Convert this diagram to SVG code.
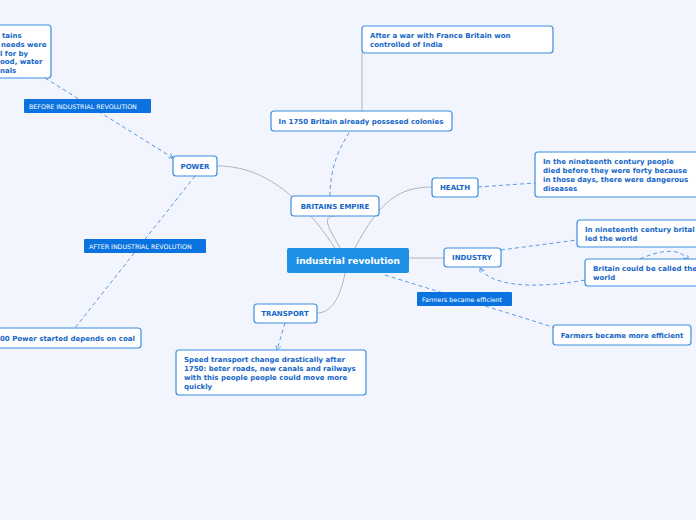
<svg xmlns="http://www.w3.org/2000/svg" width="696" height="520" viewBox="0 0 696 520">
<defs>
<style>
.b{fill:#fff;stroke:#3d8ee0;stroke-width:1.2}
.t{font-family:Verdana,"DejaVu Sans",sans-serif;font-size:7px;font-weight:bold;fill:#1466c8}
.l{fill:#0a73e0}
.lt{font-family:"DejaVu Sans",sans-serif;font-size:6.3px;fill:#fff}
.s{fill:none;stroke:#b0b4c0;stroke-width:1}
.d{fill:none;stroke:#4a8fdc;stroke-width:0.9;stroke-dasharray:4,3}
</style>
<marker id="a" markerWidth="6" markerHeight="6" refX="5" refY="3" orient="auto"><path d="M0,0L5,3L0,6" fill="none" stroke="#4a8fdc" stroke-width="0.9"/></marker>
</defs>
<rect width="696" height="520" fill="#f2f5fe"/>
<g id="connectors">
<path class="s" d="M340,248 C330,230 320,216 335,216"/>
<path class="s" d="M355,248 C380,200 400,187 432,187"/>
<path class="s" d="M409,258 L444,258"/>
<path class="s" d="M345,273 C340,300 330,313 317,313"/>
<path class="s" d="M335,248 C290,180 250,166 217,166"/>
<path class="s" d="M362,111 L362,53"/>
<path class="d" d="M330,196 C330,160 345,140 350,131"/>
<path class="d" d="M478,187 L535,183"/>
<path class="d" d="M501,250 L577,240"/>
<path class="d" d="M585,280 C530,290 490,285 480,268" marker-end="url(#a)"/>
<path class="d" d="M640,259 C660,250 680,247 688,260" marker-end="url(#a)"/>
<path class="d" d="M385,275 L553,327"/>
<path class="d" d="M285,323 L277,350" marker-start="url(#a)" marker-end="url(#a)"/>
<path class="d" d="M45,78 L173,158" marker-end="url(#a)"/>
<path class="d" d="M195,176 L75,328"/>
</g>
<g id="central"><rect x="287" y="248" width="122" height="25" rx="2" fill="#1e90e6"/><text x="348" y="264" text-anchor="middle" font-family="Verdana,'DejaVu Sans',sans-serif" font-size="9" font-weight="bold" fill="#fff">industrial revolution</text></g>
<g id="empire"><rect class="b" x="291" y="196" width="88" height="20" rx="3"/><text class="t" x="335" y="209" text-anchor="middle">BRITAINS EMPIRE</text></g>
<g id="colonies"><rect class="b" x="271" y="111" width="181" height="20" rx="3"/><text class="t" x="361" y="124" text-anchor="middle">In 1750 Britain already possesed colonies</text></g>
<g id="india"><rect class="b" x="362" y="26" width="191" height="27" rx="3"/><text class="t" x="370" y="38">After a war with France Britain won</text><text class="t" x="370" y="47">controlled of India</text></g>
<g id="health"><rect class="b" x="432" y="178" width="46" height="19" rx="3"/><text class="t" x="455" y="190" text-anchor="middle">HEALTH</text></g>
<g id="health-note"><rect class="b" x="535" y="152" width="170" height="45" rx="3"/><text class="t" x="543" y="164">In the nineteenth century people</text><text class="t" x="543" y="173">died before they were forty because</text><text class="t" x="543" y="182">in those days, there were dangerous</text><text class="t" x="543" y="191">diseases</text></g>
<g id="industry"><rect class="b" x="444" y="248" width="57" height="19" rx="3"/><text class="t" x="472" y="260" text-anchor="middle">INDUSTRY</text></g>
<g id="led"><rect class="b" x="577" y="220" width="125" height="27" rx="3"/><text class="t" x="585" y="232">In nineteenth century brital</text><text class="t" x="585" y="241">led the world</text></g>
<g id="called"><rect class="b" x="585" y="259" width="117" height="27" rx="3"/><text class="t" x="593" y="271">Britain could be called the</text><text class="t" x="593" y="280">world</text></g>
<g id="farm-label"><rect class="l" x="417" y="292" width="95" height="14" rx="1"/><text class="lt" x="422" y="302">Farmers became efficient</text></g>
<g id="farmers"><rect class="b" x="553" y="325" width="138" height="20" rx="3"/><text class="t" x="622" y="338" text-anchor="middle">Farmers became more efficient</text></g>
<g id="transport"><rect class="b" x="254" y="304" width="63" height="19" rx="3"/><text class="t" x="285" y="316" text-anchor="middle">TRANSPORT</text></g>
<g id="speed"><rect class="b" x="176" y="350" width="190" height="45" rx="3"/><text class="t" x="184" y="362">Speed transport change drastically after</text><text class="t" x="184" y="371">1750: beter roads, new canals and railways</text><text class="t" x="184" y="380">with this people people could move more</text><text class="t" x="184" y="389">quickly</text></g>
<g id="power"><rect class="b" x="173" y="156" width="44" height="20" rx="3"/><text class="t" x="195" y="169" text-anchor="middle">POWER</text></g>
<g id="before-label"><rect class="l" x="24" y="99" width="127" height="14" rx="1"/><text class="lt" x="29" y="109">BEFORE INDUSTRIAL REVOLUTION</text></g>
<g id="after-label"><rect class="l" x="84" y="239" width="122" height="14" rx="1"/><text class="lt" x="89" y="249">AFTER INDUSTRIAL REVOLUTION</text></g>
<g id="before-note"><rect class="b" x="-10" y="25" width="61" height="53" rx="3"/><text class="t" x="2" y="38">tains</text><text class="t" x="1" y="47">needs were</text><text class="t" x="0" y="56">l for by</text><text class="t" x="0" y="64">ood, water</text><text class="t" x="0" y="73">nals</text></g>
<g id="after-note"><rect class="b" x="-10" y="328" width="151" height="20" rx="3"/><text class="t" x="0" y="341">00 Power started depends on coal</text></g>
</svg>
